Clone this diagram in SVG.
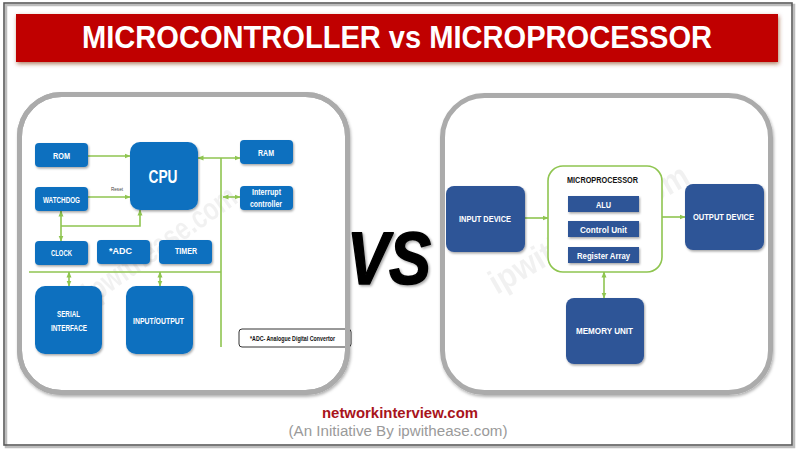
<svg xmlns="http://www.w3.org/2000/svg" width="800" height="455" viewBox="0 0 800 455">
<defs>
  <style>
    .lbl{font-family:"Liberation Sans",Arial,sans-serif;font-weight:bold;fill:#fff;text-anchor:middle}
    .b1{fill:#0B6FBF;filter:url(#sh)}
    .b2{fill:#2F5597;filter:url(#sh)}
    .ln{stroke:#8FC550;stroke-width:1.6;fill:none}
    .panel{fill:#fff;stroke:#ABABAB;stroke-width:5;filter:url(#psh)}
    .wm{font-family:"Liberation Sans",Arial,sans-serif;font-weight:bold;fill:#000;opacity:0.05}
  </style>
  <filter id="sh" x="-20%" y="-20%" width="150%" height="150%">
    <feDropShadow dx="1" dy="1.5" stdDeviation="1" flood-color="#000" flood-opacity="0.35"/>
  </filter>
  <filter id="psh" x="-10%" y="-10%" width="120%" height="120%">
    <feDropShadow dx="1" dy="2" stdDeviation="1.5" flood-color="#000" flood-opacity="0.3"/>
  </filter>
  <filter id="tsh" x="-5%" y="-30%" width="110%" height="170%">
    <feDropShadow dx="1" dy="2" stdDeviation="2" flood-color="#7a2a00" flood-opacity="0.6"/>
  </filter>
  <filter id="vsh" x="-10%" y="-10%" width="130%" height="130%">
    <feDropShadow dx="1.5" dy="1.5" stdDeviation="1.2" flood-color="#000" flood-opacity="0.35"/>
  </filter>
  <marker id="ah" viewBox="0 0 6 6" refX="5.5" refY="3" markerWidth="6" markerHeight="6" markerUnits="userSpaceOnUse" orient="auto-start-reverse">
    <path d="M0,0.5 L6,3 L0,5.5 Z" fill="#8FC550"/>
  </marker>
</defs>

<!-- outer frame -->
<rect x="0" y="0" width="800" height="455" fill="#fff"/>
<rect x="6" y="5" width="788" height="442" fill="none" stroke="#BDBDBD" stroke-width="2.5"/>
<rect x="4" y="3" width="788" height="442" fill="none" stroke="#5A5A5A" stroke-width="1.6"/>

<!-- title -->
<g id="title">
  <rect x="16" y="14" width="762" height="48" fill="#C00000" filter="url(#tsh)"/>
  <text x="397" y="48" font-family="Liberation Sans,Arial,sans-serif" font-weight="bold" font-size="31" fill="#fff" text-anchor="middle" textLength="630" lengthAdjust="spacingAndGlyphs">MICROCONTROLLER vs MICROPROCESSOR</text>
</g>

<!-- panels -->
<rect id="panel-left" class="panel" x="19.5" y="94.5" width="328" height="298" rx="42"/>
<rect id="panel-right" class="panel" x="442.5" y="95.5" width="328" height="297" rx="42"/>

<!-- watermarks -->
<text class="wm" font-size="32" transform="translate(92,305) rotate(-35)" textLength="180" lengthAdjust="spacingAndGlyphs">ipwithease.com</text>
<text class="wm" font-size="34" transform="translate(497,295) rotate(-30)" textLength="225" lengthAdjust="spacingAndGlyphs">ipwithease.com</text>

<!-- connectors -->
<g id="connectors">
  <line class="ln" x1="88" y1="156" x2="130" y2="156" marker-end="url(#ah)"/>
  <line class="ln" x1="88" y1="197" x2="130" y2="197" marker-end="url(#ah)"/>
  <line class="ln" x1="61" y1="211" x2="61" y2="241" marker-start="url(#ah)" marker-end="url(#ah)"/>
  <polyline class="ln" points="61,226 140,226 140,210" marker-end="url(#ah)"/>
  <line class="ln" x1="198" y1="158" x2="240" y2="158" marker-start="url(#ah)" marker-end="url(#ah)"/>
  <line class="ln" x1="221" y1="158" x2="221" y2="347"/>
  <line class="ln" x1="223" y1="197" x2="240" y2="197" marker-start="url(#ah)" marker-end="url(#ah)"/>
  <line class="ln" x1="29" y1="272" x2="221" y2="272"/>
  <line class="ln" x1="69" y1="272" x2="69" y2="286" marker-start="url(#ah)" marker-end="url(#ah)"/>
  <line class="ln" x1="160" y1="272" x2="160" y2="286" marker-start="url(#ah)" marker-end="url(#ah)"/>
  <line class="ln" x1="525" y1="218" x2="548" y2="218" marker-end="url(#ah)"/>
  <line class="ln" x1="662" y1="217" x2="685" y2="217" marker-end="url(#ah)"/>
  <line class="ln" x1="604" y1="272" x2="604" y2="298" marker-start="url(#ah)" marker-end="url(#ah)"/>
</g>

<!-- left panel nodes -->
<g id="rom"><rect class="b1" x="35" y="143" width="53" height="24" rx="4"/><text class="lbl" x="61.5" y="158.5" font-size="9" textLength="17" lengthAdjust="spacingAndGlyphs">ROM</text></g>
<g id="cpu"><rect class="b1" x="130" y="142" width="68" height="68" rx="10"/><text class="lbl" x="163" y="183" font-size="18" textLength="29" lengthAdjust="spacingAndGlyphs">CPU</text></g>
<g id="ram"><rect class="b1" x="240" y="140" width="53" height="24" rx="4"/><text class="lbl" x="266" y="156" font-size="9" textLength="16" lengthAdjust="spacingAndGlyphs">RAM</text></g>
<g id="interrupt"><rect class="b1" x="240" y="186" width="53" height="24" rx="4"/><text class="lbl" x="266.5" y="195" font-size="9" textLength="29" lengthAdjust="spacingAndGlyphs">Interrupt</text><text class="lbl" x="266" y="207" font-size="9" textLength="32" lengthAdjust="spacingAndGlyphs">controller</text></g>
<g id="watchdog"><rect class="b1" x="35" y="187" width="53" height="24" rx="4"/><text class="lbl" x="61.5" y="202.5" font-size="9" textLength="37" lengthAdjust="spacingAndGlyphs">WATCHDOG</text></g>
<text id="reset" x="117" y="191" font-family="Liberation Sans,Arial,sans-serif" font-size="6" fill="#444" text-anchor="middle" textLength="12" lengthAdjust="spacingAndGlyphs">Reset</text>
<g id="clock"><rect class="b1" x="35" y="241" width="53" height="24" rx="4"/><text class="lbl" x="61.5" y="256" font-size="9" textLength="21" lengthAdjust="spacingAndGlyphs">CLOCK</text></g>
<g id="adc"><rect class="b1" x="97" y="240" width="53" height="24" rx="4"/><text class="lbl" x="120.5" y="254" font-size="9" textLength="23" lengthAdjust="spacingAndGlyphs">*ADC</text></g>
<g id="timer"><rect class="b1" x="159" y="240" width="53" height="24" rx="4"/><text class="lbl" x="186" y="254" font-size="9" textLength="22" lengthAdjust="spacingAndGlyphs">TIMER</text></g>
<g id="serial"><rect class="b1" x="35" y="286" width="67" height="68" rx="10"/><text class="lbl" x="68.5" y="317" font-size="9" textLength="23" lengthAdjust="spacingAndGlyphs">SERIAL</text><text class="lbl" x="69" y="331" font-size="9" textLength="36" lengthAdjust="spacingAndGlyphs">INTERFACE</text></g>
<g id="io"><rect class="b1" x="126" y="286" width="67" height="68" rx="10"/><text class="lbl" x="158.5" y="324" font-size="9" textLength="51" lengthAdjust="spacingAndGlyphs">INPUT/OUTPUT</text></g>
<g id="note"><rect x="239" y="329" width="112" height="18" rx="3" fill="#fff" stroke="#333" stroke-width="1"/><text x="292.5" y="341" font-family="Liberation Sans,Arial,sans-serif" font-weight="bold" font-size="6.5" fill="#111" text-anchor="middle" textLength="85" lengthAdjust="spacingAndGlyphs">*ADC- Analogue Digital Convertor</text></g>
<rect x="19.5" y="94.5" width="328" height="298" rx="42" fill="none" stroke="#ABABAB" stroke-width="5"/>

<!-- right panel nodes -->
<g id="input-device"><rect class="b2" x="446" y="186" width="79" height="66" rx="8"/><text class="lbl" x="485" y="222" font-size="9" textLength="52" lengthAdjust="spacingAndGlyphs">INPUT DEVICE</text></g>
<g id="microprocessor">
  <rect x="548" y="166" width="114" height="106" rx="15" fill="#fff" stroke="#8FC550" stroke-width="1.6"/>
  <text x="602.5" y="183" font-family="Liberation Sans,Arial,sans-serif" font-weight="bold" font-size="9" fill="#111" text-anchor="middle" textLength="71" lengthAdjust="spacingAndGlyphs">MICROPROCESSOR</text>
</g>
<g id="alu"><rect class="b2" x="568" y="196" width="71" height="16"/><text class="lbl" x="603.5" y="207.5" font-size="9" textLength="15" lengthAdjust="spacingAndGlyphs">ALU</text></g>
<g id="control-unit"><rect class="b2" x="568" y="221" width="71" height="16"/><text class="lbl" x="603.5" y="232.5" font-size="9" textLength="47" lengthAdjust="spacingAndGlyphs">Control Unit</text></g>
<g id="register-array"><rect class="b2" x="568" y="247" width="71" height="16"/><text class="lbl" x="603.5" y="258.5" font-size="9" textLength="53" lengthAdjust="spacingAndGlyphs">Register Array</text></g>
<g id="output-device"><rect class="b2" x="685" y="184" width="79" height="66" rx="8"/><text class="lbl" x="723.5" y="220" font-size="9" textLength="61" lengthAdjust="spacingAndGlyphs">OUTPUT DEVICE</text></g>
<g id="memory-unit"><rect class="b2" x="566" y="298" width="78" height="66" rx="8"/><text class="lbl" x="604.5" y="334" font-size="9" textLength="57" lengthAdjust="spacingAndGlyphs">MEMORY UNIT</text></g>

<!-- VS -->
<text x="389" y="284" font-family="Liberation Sans,Arial,sans-serif" font-weight="bold" font-style="italic" font-size="74" fill="#000" stroke="#000" stroke-width="1.5" stroke-linejoin="round" text-anchor="middle" textLength="84" lengthAdjust="spacingAndGlyphs" filter="url(#vsh)">VS</text>

<!-- footer -->
<text x="400" y="418" font-family="Liberation Sans,Arial,sans-serif" font-weight="bold" font-size="14" fill="#A8141B" text-anchor="middle" textLength="156" lengthAdjust="spacingAndGlyphs">networkinterview.com</text>
<text x="398" y="436" font-family="Liberation Sans,Arial,sans-serif" font-size="14" fill="#9A9A9A" text-anchor="middle" textLength="219" lengthAdjust="spacingAndGlyphs">(An Initiative By ipwithease.com)</text>
</svg>
